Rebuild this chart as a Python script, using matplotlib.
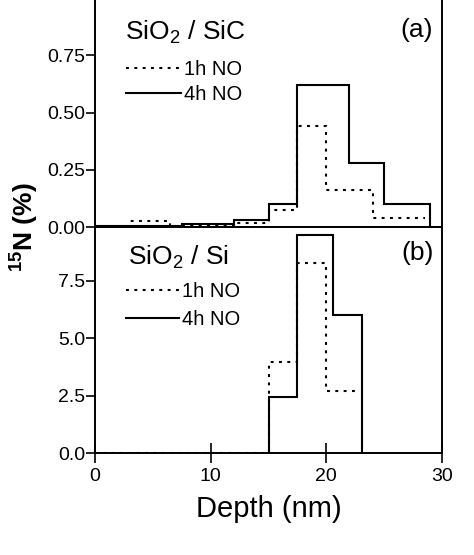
import matplotlib
matplotlib.use("Agg")
import matplotlib.pyplot as plt
from matplotlib.ticker import FormatStrFormatter

plt.rcParams['font.family'] = ['Liberation Sans', 'DejaVu Sans']
plt.rcParams['mathtext.fontset'] = 'custom'
plt.rcParams['mathtext.rm'] = 'Liberation Sans'
plt.rcParams['mathtext.it'] = 'Liberation Sans'
plt.rcParams['mathtext.bf'] = 'Liberation Sans:bold'

# ---- data ----
# (a) SiO2/SiC
sic_1h_edges = [0, 3, 6.5, 7.5, 12, 15, 17.5, 20, 24, 28.5]
sic_1h_vals = [0.0, 0.025, 0.0, 0.005, 0.016, 0.075, 0.44, 0.16, 0.04]
sic_4h_edges = [0, 7.5, 12, 15, 17.5, 22, 25, 29]
sic_4h_vals = [0.003, 0.013, 0.03, 0.10, 0.62, 0.28, 0.10]
# (b) SiO2/Si
si_1h_edges = [0, 15, 17.5, 20, 22.7]
si_1h_vals = [0.0, 3.95, 8.3, 2.7]
si_4h_edges = [15, 17.5, 20.6, 23.1]
si_4h_vals = [2.45, 9.5, 6.0]

labels = ['1h NO', '4h NO']
top_yticks = [0.0, 0.25, 0.5, 0.75]
bot_yticks = [0.0, 2.5, 5.0, 7.5]
xticks = [0, 10, 20, 30]

W, H = 474, 555
fig = plt.figure(figsize=(W / 100, H / 100), dpi=100)

left = 95 / W
width = (442 - 95) / W
ax_a = fig.add_axes([left, 1 - 227 / H, width, 229 / H])
ax_b = fig.add_axes([left, 1 - 453 / H, width, 226 / H])

lw = 1.5
dot = (0, (1.4, 2.6))

for ax in (ax_a, ax_b):
    for s in ax.spines.values():
        s.set_linewidth(1.4)
    ax.set_xlim(0, 30)
    ax.tick_params(axis='y', direction='out', length=6.5, width=1.2,
                   labelsize=14, pad=0.5, right=False)
    ax.tick_params(axis='x', direction='inout', length=14, width=1.2,
                   labelsize=14, pad=4, top=False)

# panel (a)
ax_a.stairs(sic_1h_vals, sic_1h_edges, baseline=None, color='black',
            linewidth=lw, linestyle=dot, label=labels[0])
ax_a.stairs(sic_4h_vals, sic_4h_edges, baseline=0, color='black',
            linewidth=lw, linestyle='-', label=labels[1])
ax_a.set_ylim(0, 1.0)
ax_a.set_yticks(top_yticks)
ax_a.yaxis.set_major_formatter(FormatStrFormatter('%.2f'))
ax_a.tick_params(axis='x', bottom=False, labelbottom=False)
ax_a.text(0.0865, 0.817, r'SiO$_2$ / SiC', transform=ax_a.transAxes,
          fontsize=19, ha='left', va='baseline')
ax_a.text(0.975, 0.86, '(a)', transform=ax_a.transAxes,
          fontsize=19, ha='right', va='center')
ax_a.legend(loc='upper left', bbox_to_anchor=(0.09, 0.728), frameon=False,
            fontsize=14.5, handlelength=2.7, handletextpad=0.15,
            borderpad=0, borderaxespad=0, labelspacing=0.28)

# panel (b)
ax_b.stairs(si_1h_vals, si_1h_edges, baseline=None, color='black',
            linewidth=lw, linestyle=dot, label=labels[0])
ax_b.stairs(si_4h_vals, si_4h_edges, baseline=0, color='black',
            linewidth=lw, linestyle='-', label=labels[1])
ax_b.set_ylim(0, 9.85)
ax_b.set_yticks(bot_yticks)
ax_b.yaxis.set_major_formatter(FormatStrFormatter('%.1f'))
ax_b.set_xticks(xticks)
ax_b.set_xlabel('Depth (nm)', fontsize=21, labelpad=7)
ax_b.text(0.095, 0.832, r'SiO$_2$ / Si', transform=ax_b.transAxes,
          fontsize=19, ha='left', va='baseline')
ax_b.text(0.975, 0.885, '(b)', transform=ax_b.transAxes,
          fontsize=19, ha='right', va='center')
ax_b.legend(loc='upper left', bbox_to_anchor=(0.09, 0.755), frameon=False,
            fontsize=14.5, handlelength=2.6, handletextpad=0.15,
            borderpad=0, borderaxespad=0, labelspacing=0.42)

fig.text(25 / W, 1 - 227 / H, r'$^{\mathbf{15}}$N (%)', rotation=90,
         fontsize=19, fontweight='bold', ha='center', va='center')

fig.savefig('out.png', dpi=100)
